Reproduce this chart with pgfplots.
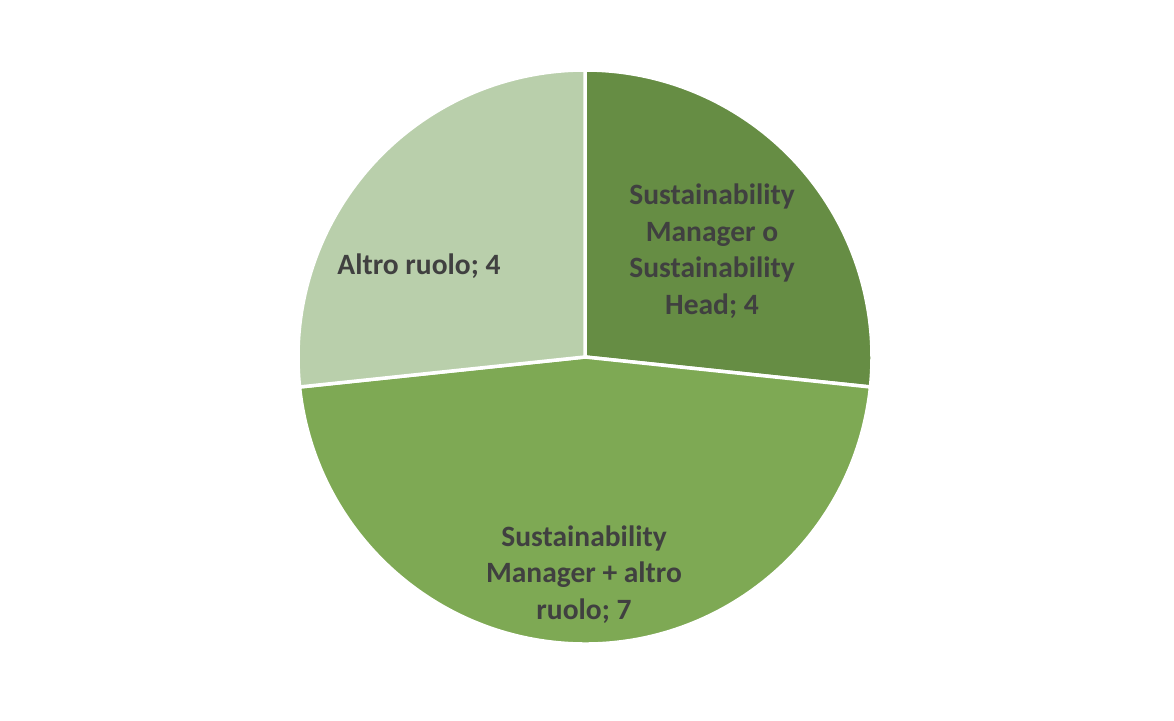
\documentclass[border=0pt]{standalone}
\usepackage{pgfplots}
\pgfplotsset{compat=1.18}
\usepackage{fontspec}
\setmainfont{Carlito}

\definecolor{sliceHead}{HTML}{668D44}
\definecolor{sliceMgr}{HTML}{7EA954}
\definecolor{sliceAltro}{HTML}{B9CFAB}
\definecolor{labelgray}{HTML}{404040}

% values of the three slices (clockwise from the top)
\def\valHead{4}
\def\valMgr{7}
\def\valAltro{4}
\pgfmathsetmacro\total{\valHead+\valMgr+\valAltro}
\pgfmathsetmacro\angA{90-360*\valHead/\total}
\pgfmathsetmacro\angB{\angA-360*\valMgr/\total}
\pgfmathsetmacro\angC{\angB-360*\valAltro/\total}

\begin{document}
\begin{tikzpicture}
  \begin{axis}[
    scale only axis, width=1174pt, height=720pt,
    xmin=0, xmax=1174, ymin=0, ymax=720,
    hide axis, clip=false]
    \path (axis cs:0,0) rectangle (axis cs:1174,720);
    \fill[sliceHead, draw=white, line width=3.5pt, line join=round]
      (axis cs:585,363) -- ++(90:287pt)
      arc[start angle=90, end angle=\angA, radius=287pt] -- cycle;
    \fill[sliceMgr, draw=white, line width=3.5pt, line join=round]
      (axis cs:585,363) -- ++(\angA:287pt)
      arc[start angle=\angA, end angle=\angB, radius=287pt] -- cycle;
    \fill[sliceAltro, draw=white, line width=3.5pt, line join=round]
      (axis cs:585,363) -- ++(\angB:287pt)
      arc[start angle=\angB, end angle=\angC, radius=287pt] -- cycle;
    \begin{scope}[every node/.style={font=\fontsize{29.5}{36.5}\selectfont\bfseries,
        text=labelgray, align=center}]
      \node at (axis cs:712,469) {Sustainability\\Manager o\\Sustainability\\Head; 4};
      \node at (axis cs:584,145.5) {Sustainability\\Manager + altro\\ruolo; 7};
      \node[anchor=base] at (axis cs:419,445) {Altro ruolo; 4};
    \end{scope}
  \end{axis}
\end{tikzpicture}
\end{document}
